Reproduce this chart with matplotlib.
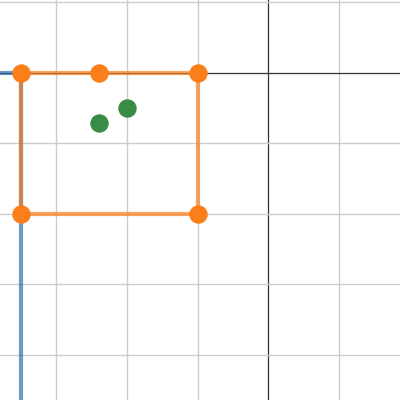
import matplotlib
matplotlib.use("Agg")
import matplotlib.pyplot as plt

blue_x = [-3.9, -3.5, -3.5]
blue_y = [0, 0, -5]
rect_x = [-3.5, -1, -1, -3.5, -3.5]
rect_y = [0, 0, -2, -2, 0]
orange_px = [-3.5, -2.4, -1, -1, -3.5]
orange_py = [0, 0, 0, -2, -2]
green_x = [-2.4, -2.0]
green_y = [-0.71, -0.5]

fig = plt.figure(figsize=(4, 4), dpi=100)
ax = fig.add_axes([0, 0, 1, 1])
xmin, xmax = -3.80, 1.87
ymin, ymax = -4.64, 1.035
ax.set_xlim(xmin, xmax)
ax.set_ylim(ymin, ymax)
for x in range(-3, 2):
    ax.axvline(x, color="#ccc" if x else "#333", lw=1 if x else 0.9, zorder=0)
for y in range(-4, 2):
    ax.axhline(y, color="#ccc" if y else "#333", lw=1 if y else 0.9, zorder=0)
ax.plot(blue_x, blue_y, color="#2d70b3", lw=3, alpha=0.7, zorder=2)
ax.plot(rect_x, rect_y, color="#fa7e19", lw=3, alpha=0.7, zorder=3)
ax.scatter(orange_px, orange_py, s=150, color="#fa7e19", zorder=4)
ax.scatter(green_x, green_y, s=150, color="#388c46", zorder=4)
ax.axis("off")
fig.savefig("out.png", dpi=100)
